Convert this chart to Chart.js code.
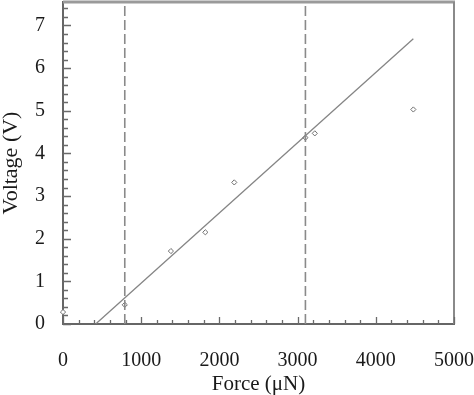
<!DOCTYPE html>
<html><head><meta charset="utf-8">
<script src="https://cdn.jsdelivr.net/npm/chart.js@4"></script>
<style>html,body{margin:0;padding:0;background:#fff;} canvas{display:block;}</style>
</head><body>
<canvas id="c" width="474" height="395"></canvas>
<script>
// Data
const forceData   = [0, 790, 1380, 1820, 2190, 3100, 3220, 4480];
const voltageData = [0.28, 0.45, 1.71, 2.15, 3.32, 4.37, 4.47, 5.03];
const fitForce    = [418, 4480];
const fitVoltage  = [0, 6.69];
const dashForce   = [790, 3100];
const xTickValues = [0, 1000, 2000, 3000, 4000, 5000];
const yTickValues = [0, 1, 2, 3, 4, 5, 6, 7];
const xRange = [0, 5000];
const yRange = [0, 7.55];
const xMinorStep = 200;
const yMinorStep = 0.2;

const serif = "'Liberation Serif', 'DejaVu Serif', serif";

const datasets = [];
dashForce.forEach(f => {
  datasets.push({
    type: 'line',
    data: [{x: f, y: yRange[0]}, {x: f, y: yRange[1]}],
    borderColor: '#8a8a8a', borderWidth: 1.6, borderDash: [10, 4],
    pointRadius: 0, fill: false, tension: 0
  });
});
datasets.push({
  type: 'line',
  data: fitForce.map((f, i) => ({x: f, y: fitVoltage[i]})),
  borderColor: '#858585', borderWidth: 1.3, pointRadius: 0, fill: false, tension: 0
});
datasets.push({
  type: 'scatter',
  data: forceData.map((f, i) => ({x: f, y: voltageData[i]})),
  pointStyle: 'rectRot', pointRadius: 2.6, borderWidth: 1,
  borderColor: '#707070', backgroundColor: '#ffffff', clip: false
});

const framePlugin = {
  id: 'frame',
  afterDatasetsDraw(chart) {
    const {ctx, scales: {x, y}} = chart;
    const L = x.getPixelForValue(xRange[0]), R = x.getPixelForValue(xRange[1]);
    const T = y.getPixelForValue(yRange[1]), B = y.getPixelForValue(yRange[0]);
    ctx.save();
    ctx.strokeStyle = '#9a9a9a';
    ctx.lineWidth = 3;
    ctx.beginPath(); ctx.moveTo(L, T); ctx.lineTo(R + 1, T); ctx.stroke();
    ctx.strokeStyle = '#8a8a8a';
    ctx.lineWidth = 2;
    ctx.beginPath(); ctx.moveTo(R, T); ctx.lineTo(R, B); ctx.stroke();
    ctx.strokeStyle = '#6a6a6a';
    ctx.lineWidth = 1.3;
    ctx.beginPath();
    for (let v = xRange[0]; v <= xRange[1] + 1e-6; v += xMinorStep) {
      const px = Math.round(x.getPixelForValue(v)) + 0.5;
      const major = xTickValues.includes(Math.round(v));
      const len = major ? 7 : 4;
      ctx.moveTo(px, B); ctx.lineTo(px, B - len);
    }
    for (let i = 0; i * yMinorStep <= yRange[1] + 1e-6; i++) {
      const v = i * yMinorStep;
      const py = Math.round(y.getPixelForValue(v)) + 0.5;
      const major = Math.abs(v - Math.round(v)) < 1e-6;
      const len = major ? 8 : 5;
      ctx.moveTo(L, py); ctx.lineTo(L + len, py);
    }
    ctx.stroke();
    ctx.restore();
  }
};

function noPad(s) { s.paddingLeft = 0; s.paddingRight = 0; s.paddingTop = 0; s.paddingBottom = 0; }

new Chart(document.getElementById('c'), {
  type: 'scatter',
  data: {datasets},
  plugins: [framePlugin],
  options: {
    responsive: false,
    animation: false,
    devicePixelRatio: 1,
    layout: {autoPadding: false, padding: {top: 2, right: 20, left: 0, bottom: 0}},
    plugins: {legend: {display: false}, tooltip: {enabled: false}},
    scales: {
      x: {
        type: 'linear', min: xRange[0], max: xRange[1],
        afterBuildTicks(s) { s.ticks = xTickValues.map(v => ({value: v})); },
        afterFit(s) { s.height = 71; noPad(s); },
        grid: {display: true, drawOnChartArea: false, drawTicks: false},
        border: {display: true, color: '#666', width: 2},
        ticks: {padding: 25, color: '#1a1a1a', font: {family: serif, size: 20}, maxRotation: 0,
          callback: v => String(v)},
        title: {display: true, text: 'Force (\u03bcN)', color: '#1a1a1a',
          font: {family: serif, size: 21, lineHeight: 1}, padding: {top: 0, bottom: 0}}
      },
      y: {
        type: 'linear', min: yRange[0], max: yRange[1],
        afterBuildTicks(s) { s.ticks = yTickValues.map(v => ({value: v})); },
        afterFit(s) { s.width = 63; noPad(s); },
        grid: {display: true, drawOnChartArea: false, drawTicks: false},
        border: {display: true, color: '#666', width: 2},
        ticks: {padding: 18, color: '#1a1a1a', font: {family: serif, size: 20},
          callback: v => String(v)},
        title: {display: true, text: 'Voltage (V)', color: '#1a1a1a',
          font: {family: serif, size: 22, lineHeight: 1}, padding: {top: 0, bottom: 0}}
      }
    }
  }
});
</script>
</body></html>
